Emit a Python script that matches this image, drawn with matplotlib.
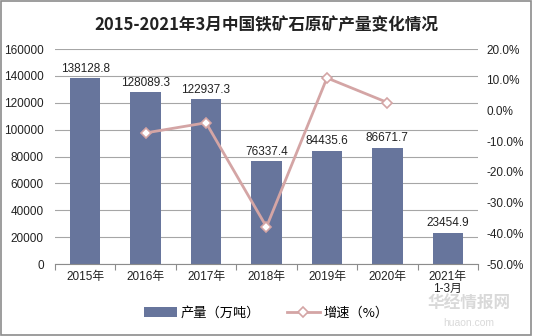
import matplotlib
matplotlib.use('Agg')
import matplotlib.pyplot as plt
from matplotlib.ticker import FuncFormatter
from matplotlib.patches import Rectangle
import numpy as np

plt.rcParams['font.family'] = ['Liberation Sans', 'Noto Sans CJK SC']

# data
years = ['2015年', '2016年', '2017年', '2018年', '2019年', '2020年', '2021年\n1-3月']
output = [138128.8, 128089.3, 122937.3, 76337.4, 84435.6, 86671.7, 23454.9]
growth = [np.nan, -7.3, -4.0, -37.9, 10.6, 2.6, np.nan]

bar_color = '#67759C'
line_color = '#D4A5A5'

fig = plt.figure(figsize=(5.33, 3.36), dpi=100)
fig.patches.append(Rectangle((0.002, 0.003), 0.994, 0.994, transform=fig.transFigure,
                             fill=False, edgecolor='#8c8c8c', linewidth=1.2))

ax = fig.add_axes([0.103, 0.214, 0.794, 0.640])
x = np.arange(len(years))
bars = ax.bar(x, output, width=0.5, color=bar_color, zorder=2, label='产量（万吨）')
for xi, v in zip(x, output):
    ax.text(xi, v + 2500, f'{v:.1f}', ha='center', va='bottom', fontsize=8.5,
            color='#222222')

ax.set_xlim(-0.5, len(years) - 0.5)
ax.set_ylim(0, 160000)
ax.set_yticks(np.arange(0, 160001, 20000))
ax.yaxis.grid(True, color='#a6a6a6', linewidth=0.8, zorder=0)
ax.set_axisbelow(True)
for s in ['top', 'right', 'left']:
    ax.spines[s].set_visible(False)
ax.spines['bottom'].set_color('#8c8c8c')
ax.tick_params(axis='y', length=0, labelsize=8.5, pad=8, labelcolor='#222222')
ax.set_xticks(np.arange(-0.5, len(years), 1), minor=False)
ax.set_xticklabels([])
ax.tick_params(axis='x', which='major', length=4, color='#8c8c8c')
ax.set_xticks(x, minor=True)
ax.set_xticklabels(years, minor=True, fontsize=8.5, linespacing=1.0, color='#222222')
ax.tick_params(axis='x', which='minor', length=0, pad=5)

ax2 = ax.twinx()
line, = ax2.plot(x, growth, color=line_color, linewidth=2, marker='D', markersize=5,
                 markerfacecolor='white', markeredgecolor=line_color, markeredgewidth=1.2,
                 zorder=3, label='增速（%）')
ax2.set_ylim(-50, 20)
ax2.set_yticks(np.arange(-50, 21, 10))
ax2.yaxis.set_major_formatter(FuncFormatter(lambda v, p: f'{v:.1f}%'))
for s in ['top', 'right', 'left', 'bottom']:
    ax2.spines[s].set_visible(False)
ax2.tick_params(axis='y', length=0, labelsize=8.5, pad=6, labelcolor='#222222')

fig.text(0.5, 0.925, '2015-2021年3月中国铁矿石原矿产量变化情况', ha='center', va='center',
         fontsize=12, fontweight='bold', color='#222222',
         family=['Noto Sans CJK SC', 'DejaVu Sans'])

fig.legend([bars, line], ['产量（万吨）', '增速（%）'], loc='center', bbox_to_anchor=(0.5, 0.068),
           ncol=2, frameon=False, fontsize=9.5, handlelength=2.5, columnspacing=2,
           handletextpad=0.3, prop={'family': ['Noto Sans CJK SC'], 'size': 9.5})

# watermark
fig.text(0.88, 0.095, '华经情报网', ha='center', va='center', fontsize=12,
         fontweight='bold', color='#d0d0d0', alpha=0.8, family=['Noto Sans CJK SC'])
fig.text(0.88, 0.04, 'huaon.com', ha='center', va='center', fontsize=7.5,
         color='#d0d0d0', alpha=0.8)

fig.savefig('out.png', dpi=100)
